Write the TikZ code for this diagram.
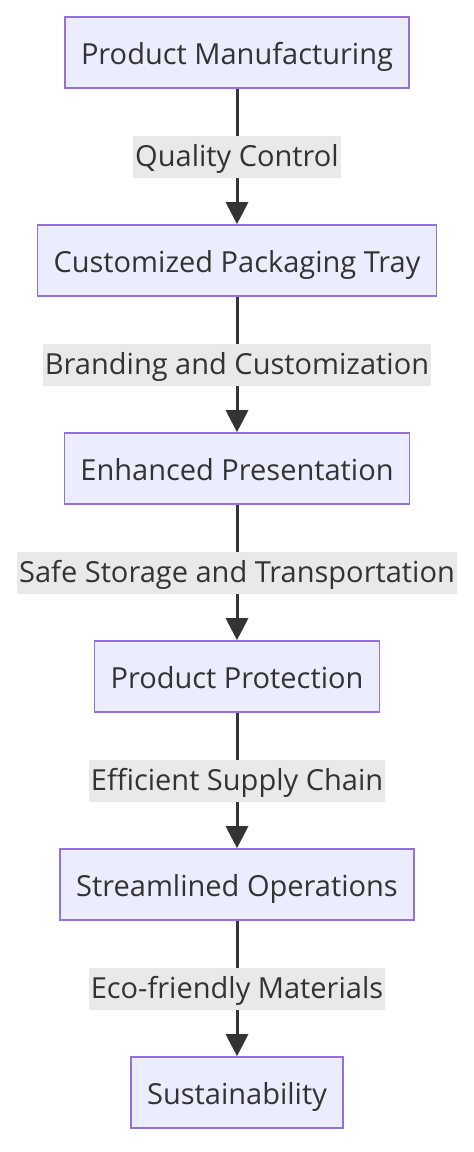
\documentclass[tikz,border=0pt]{standalone}
\usepackage{fontspec}
\setmainfont{Open Sans}
\usetikzlibrary{arrows.meta}
\definecolor{boxfill}{HTML}{ECECFF}
\definecolor{boxline}{HTML}{9370DB}
\definecolor{edgecol}{HTML}{333333}
\definecolor{lblfill}{HTML}{E9E9E9}
\tikzset{
  stepbox/.style={draw=boxline, fill=boxfill, line width=1.6pt, minimum height=71pt,
    inner xsep=16pt, inner ysep=0pt, text height=29pt, text depth=5.6pt,
    text=edgecol, font=\fontsize{29}{34}\selectfont},
  flowlbl/.style={fill=lblfill, inner xsep=2pt, inner ysep=0pt, minimum height=42pt,
    text height=25pt, text depth=5.6pt,
    text=edgecol, font=\fontsize{29}{34}\selectfont},
  flow/.style={draw=edgecol, line width=3pt, -{Triangle[length=22pt,width=22pt]}}
}
\begin{document}
\begin{tikzpicture}[x=1pt,y=-1pt]
\useasboundingbox (0,0) rectangle (474,1152);
\node[stepbox] (a) at (237,52.5) {Product Manufacturing};
\node[stepbox] (b) at (237,260.5) {Customized Packaging Tray};
\node[stepbox] (c) at (237,468.5) {Enhanced Presentation};
\node[stepbox] (d) at (237,676.5) {Product Protection};
\node[stepbox] (e) at (237,884.5) {Streamlined Operations};
\node[stepbox] (f) at (237,1092.5) {Sustainability};
\draw[flow] (a) -- node[flowlbl] {Quality Control} (b);
\draw[flow] (b) -- node[flowlbl] {Branding and Customization} (c);
\draw[flow] (c) -- node[flowlbl] {Safe Storage and Transportation} (d);
\draw[flow] (d) -- node[flowlbl] {Efficient Supply Chain} (e);
\draw[flow] (e) -- node[flowlbl] {Eco-friendly Materials} (f);
\end{tikzpicture}
\end{document}
